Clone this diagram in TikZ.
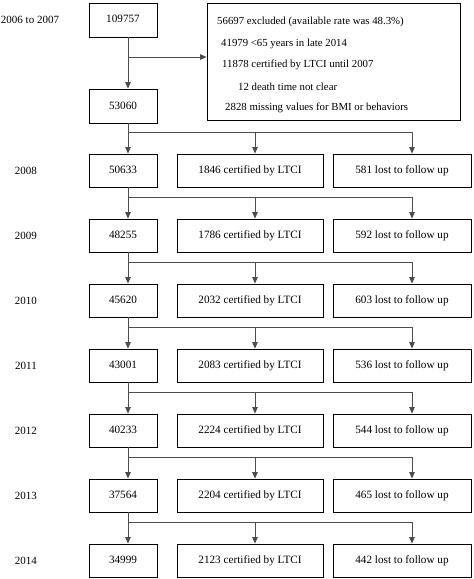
\documentclass[tikz,border=0pt]{standalone}
\usepackage{fontspec}
\setmainfont{Liberation Serif}
\usetikzlibrary{arrows.meta}
\begin{document}
\begin{tikzpicture}[x=1pt,y=-1pt,
  box/.style={draw=black,line width=0.9pt,minimum height=33pt,inner sep=0pt,font=\fontsize{11.2}{13}\selectfont},
  nbox/.style={box,minimum width=68pt},
  cbox/.style={box,minimum width=146pt},
  lbox/.style={box,minimum width=138pt},
  yr/.style={font=\fontsize{11}{13}\selectfont,inner sep=0pt},
  txt/.style={font=\fontsize{10.8}{13}\selectfont,inner sep=0pt,anchor=west},
  conn/.style={draw=black!70,line width=0.8pt},
  arr/.style={conn,-{Triangle[width=5.5pt,length=6.5pt]}}
]
\useasboundingbox (0,0) rectangle (474,579);

\node[nbox,minimum height=34pt] (n0) at (123,20) {\raisebox{2pt}{109757}};
\node[yr] (y0) at (30,20) {2006 to 2007};
\node[draw=black,line width=0.9pt,minimum width=253pt,minimum height=117pt,inner sep=0pt] (excl) at (333.5,61.5) {};
\node[txt] (e1) at (217,22) {56697 excluded (available rate was 48.3\%)};
\node[txt] (e2) at (221,44) {41979 <65 years in late 2014};
\node[txt] (e3) at (222,65) {11878 certified by LTCI until 2007};
\node[txt] (e4) at (238,87) {12 death time not clear};
\node[txt] (e5) at (225,108) {2828 missing values for BMI or behaviors};
\node[nbox,minimum height=34pt] (n1) at (123,106) {53060};
\coordinate (j0) at (128,57);
\draw[arr] (n0.south -| j0) -- (n1.north -| j0);
\draw[arr] (j0) -- (j0 -| excl.west);

\foreach \yy/\nn/\cc/\ll [count=\k] in {2008/50633/1846/581,2009/48255/1786/592,2010/45620/2032/603,2011/43001/2083/536,2012/40233/2224/544,2013/37564/2204/465,2014/34999/2123/442}{
  \pgfmathsetmacro{\ymid}{170.5+65*(\k-1)}
  \node[yr] (y\k) at (26,\ymid) {\yy};
  \node[nbox] (n\k a) at (123,\ymid) {\raisebox{2pt}{\nn}};
  \node[cbox] (c\k) at (250,\ymid) {\raisebox{1pt}{\cc{} certified by LTCI}};
  \node[lbox] (l\k) at (402,\ymid) {\raisebox{-1.5pt}{\ll{} lost to follow up}};
}
\foreach \k in {1,...,7}{
  \pgfmathsetmacro{\yb}{170.5+65*(\k-1)-38.5}
  \coordinate (b\k) at (128,\yb);
  \coordinate (bm\k) at (255,\yb);
  \coordinate (br\k) at (412,\yb);
}
\draw[conn] (n1.south -| b1) -- (b1) -- (br1);
\draw[arr] (b1) -- (n1a.north -| b1);
\draw[arr] (bm1) -- (c1.north -| bm1);
\draw[arr] (br1) -- (l1.north -| br1);
\foreach \k [evaluate=\k as \p using int(\k-1)] in {2,...,7}{
  \draw[conn] (n\p a.south -| b\k) -- (b\k) -- (br\k);
  \draw[arr] (b\k) -- (n\k a.north -| b\k);
  \draw[arr] (bm\k) -- (c\k.north -| bm\k);
  \draw[arr] (br\k) -- (l\k.north -| br\k);
}
\end{tikzpicture}
\end{document}
